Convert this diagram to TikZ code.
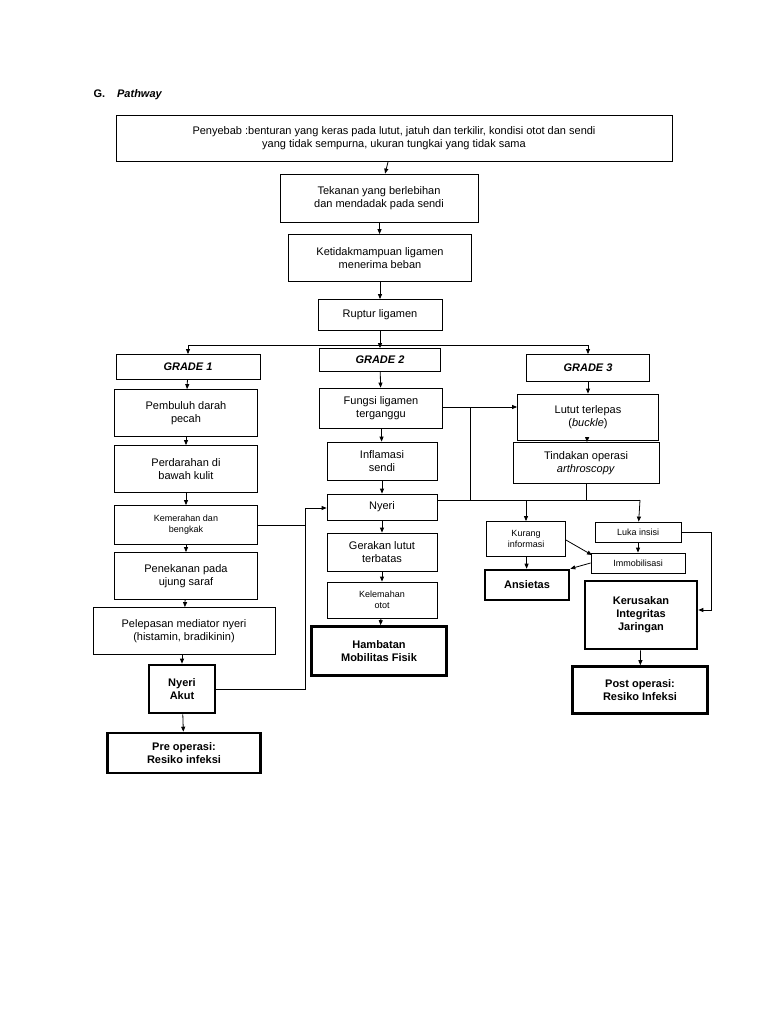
\documentclass[tikz,border=0pt]{standalone}
\usepackage{fontspec}
\setmainfont{Liberation Sans}
\usetikzlibrary{arrows.meta}
\begin{document}
\begin{tikzpicture}[x=1pt,y=-1pt,
 bx/.style={draw,line width=0.8pt,align=center,inner sep=1pt,font=\fontsize{11}{13}\selectfont},
 sm/.style={bx,font=\fontsize{9}{11}\selectfont},
 tk/.style={bx,line width=2.6pt,font=\bfseries\fontsize{11}{13}\selectfont},
 ar/.style={-{Triangle[length=5pt,width=4pt]},line width=0.8pt},
 ln/.style={line width=0.8pt}]
\useasboundingbox (0,0) rectangle (768,1024);
\node[anchor=west,font=\bfseries\fontsize{11}{13}\selectfont] (ttl) at (90,95) {G.\hspace{12pt}\textit{Pathway}};
\node[bx,minimum width=556,minimum height=46] (p) at (394,138) {Penyebab :benturan yang keras pada lutut, jatuh dan terkilir, kondisi otot dan sendi\\yang tidak sempurna, ukuran tungkai yang tidak sama};
\node[bx,minimum width=198,minimum height=48] (t) at (379,198) {Tekanan yang berlebihan\\dan mendadak pada sendi};
\node[bx,minimum width=183,minimum height=47] (k) at (380,258) {Ketidakmampuan ligamen\\menerima beban};
\node[bx,minimum width=124,minimum height=31] (r) at (380,315) {Ruptur ligamen};
\node[bx,minimum width=144,minimum height=25,font=\bfseries\itshape\fontsize{11}{13}\selectfont] (g1) at (188,367) {GRADE 1};
\node[bx,minimum width=121,minimum height=23,font=\bfseries\itshape\fontsize{11}{13}\selectfont] (g2) at (380,360) {GRADE 2};
\node[bx,minimum width=123,minimum height=27,font=\bfseries\itshape\fontsize{11}{13}\selectfont] (g3) at (588,368) {GRADE 3};
% grade 1 column
\node[bx,minimum width=143,minimum height=47] (a1) at (186,413) {Pembuluh darah\\pecah};
\node[bx,minimum width=143,minimum height=47] (a2) at (186,469) {Perdarahan di\\bawah kulit};
\node[sm,minimum width=143,minimum height=39] (a3) at (186,525) {Kemerahan dan\\bengkak};
\node[bx,minimum width=143,minimum height=47] (a4) at (186,576) {Penekanan pada\\ujung saraf};
\node[bx,minimum width=182,minimum height=47] (a5) at (184,631) {Pelepasan mediator nyeri\\(histamin, bradikinin)};
\node[tk,minimum width=66,minimum height=48] (a6) at (182,689) {Nyeri\\Akut};
\node[tk,minimum width=153,minimum height=40] (a7) at (184,753) {Pre operasi:\\Resiko infeksi};
% grade 2 column
\node[bx,minimum width=123,minimum height=40] (b1) at (381,408) {Fungsi ligamen\\terganggu};
\node[bx,minimum width=110,minimum height=38] (b2) at (382,461) {Inflamasi\\sendi};
\node[bx,minimum width=110,minimum height=26] (b3) at (382,507) {Nyeri};
\node[bx,minimum width=110,minimum height=38] (b4) at (382,552) {Gerakan lutut\\terbatas};
\node[sm,minimum width=110,minimum height=36] (b5) at (382,600) {Kelemahan\\otot};
\node[tk,minimum width=135,minimum height=49] (b6) at (379,651) {Hambatan\\Mobilitas Fisik};
% grade 3 column
\node[bx,minimum width=141,minimum height=46] (c1) at (588,417) {Lutut terlepas\\(\textit{buckle})};
\node[bx,minimum width=146,minimum height=41] (c2) at (586,463) {Tindakan operasi\\\textit{arthroscopy}};
\node[sm,minimum width=79,minimum height=35] (c3) at (526,539) {Kurang\\informasi};
\node[sm,minimum width=86,minimum height=20] (c4) at (638,532) {Luka insisi};
\node[sm,minimum width=94,minimum height=20] (c5) at (638,563) {Immobilisasi};
\node[tk,minimum width=84,minimum height=30] (c6) at (527,585) {Ansietas};
\node[tk,minimum width=112,minimum height=68] (c7) at (641,615) {Kerusakan\\Integritas\\Jaringan};
\node[tk,minimum width=135,minimum height=47] (c8) at (640,690) {Post operasi:\\Resiko Infeksi};
\coordinate (br) at (380,345);
\coordinate (jx) at (470,407);
\coordinate (ny) at (470,500);
\coordinate (tn) at (586,500);
\coordinate (lk) at (640,500);
\coordinate (kr) at (526,500);
\coordinate (lr) at (711,532);
\coordinate (lb) at (711,610);
\coordinate (vx) at (305,508);
% arrows
\draw[ar] (p) -- (t);
\draw[ar] (t) -- (k);
\draw[ar] (k) -- (r);
\draw[ar] (r) -- (g2);
\draw[ln] (188,345) -- (588,345);
\draw[ar] (188,345) -- (g1);
\draw[ar] (588,345) -- (g3);
\draw[ar] (g1) -- (a1);
\draw[ar] (a1) -- (a2);
\draw[ar] (a2) -- (a3);
\draw[ar] (a3) -- (a4);
\draw[ar] (a4) -- (a5);
\draw[ar] (a5.south -| a6) -- (a6);
\draw[ar] (a6) -- (a7);
\draw[ar] (g2) -- (b1);
\draw[ar] (b1) -- (b2);
\draw[ar] (b2) -- (b3);
\draw[ar] (b3) -- (b4);
\draw[ar] (b4) -- (b5);
\draw[ar] (b5) -- (b6);
\draw[ar] (g3) -- (c1);
\draw[ar] (c1) -- (c2);
\draw[ar] (b1.east |- jx) -- (c1.west |- jx);
\draw[ln] (jx) -- (ny);
\draw[ln] (b3.east |- ny) -- (lk);
\draw[ln] (c2.south -| tn) -- (tn);
\draw[ar] (kr) -- (c3);
\draw[ar] (lk) -- (c4);
\draw[ar] (a3.east) -| (vx) -- (b3.west |- vx);
\draw[ln] (a6.east) -| (vx);
\draw[ar] (c3) -- (c6);
\draw[ar] (c4) -- (c5);
\draw[ar] (c3.east |- 0,540) -- (592,555);
\draw[ar] (c5.west) -- (c6.north east);
\draw[ar] (c4.east) -- (lr) -- (lb) -- (c7.east |- lb);
\draw[ar] (c7) -- (c8);
\end{tikzpicture}
\end{document}
